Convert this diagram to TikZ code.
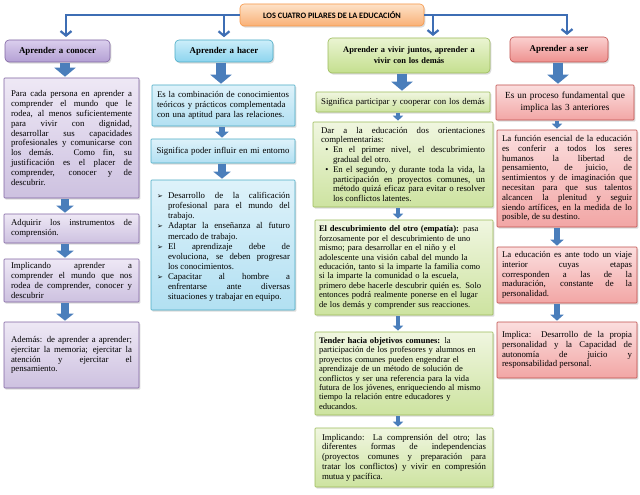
\documentclass[tikz,border=0pt]{standalone}
\usepackage{fontspec}
\setmainfont{Liberation Serif}
\newfontfamily\titlefont{Carlito}
\newfontfamily\symfont{DejaVu Sans}
\usetikzlibrary{arrows.meta,shadows,calc}
\setlength{\parindent}{0pt}
\hyphenpenalty=10000 \exhyphenpenalty=10000 \tolerance=10000
\definecolor{ptop}{RGB}{238,232,245}\definecolor{pbot}{RGB}{205,193,224}\definecolor{pbd}{RGB}{128,100,162}
\definecolor{phtop}{RGB}{218,206,237}\definecolor{phbot}{RGB}{180,160,212}
\definecolor{btop}{RGB}{222,242,250}\definecolor{bbot}{RGB}{178,224,242}\definecolor{bbd}{RGB}{75,172,198}
\definecolor{bhtop}{RGB}{204,238,250}\definecolor{bhbot}{RGB}{140,212,238}
\definecolor{gtop}{RGB}{240,246,224}\definecolor{gbot}{RGB}{205,227,160}\definecolor{gbd}{RGB}{155,187,89}
\definecolor{ghtop}{RGB}{234,244,210}\definecolor{ghbot}{RGB}{196,223,142}
\definecolor{rtop}{RGB}{251,222,222}\definecolor{rbot}{RGB}{242,166,165}\definecolor{rbd}{RGB}{192,80,77}
\definecolor{rhtop}{RGB}{250,208,207}\definecolor{rhbot}{RGB}{238,145,143}
\definecolor{otop}{RGB}{253,226,200}\definecolor{obot}{RGB}{249,176,118}\definecolor{obd}{RGB}{247,150,70}
\definecolor{arrblue}{RGB}{74,126,187}
\definecolor{lineblue}{RGB}{62,110,180}
\newcommand{\tx}{\fontsize{8.8}{9.8}\selectfont}
\newcommand{\hx}{\bfseries\fontsize{8.9}{10}\selectfont}
\newcommand{\itm}[1]{\par\hangindent=12pt\hangafter=0\noindent\llap{{\symfont\fontsize{7}{7}\selectfont ➢}\hspace{5pt}}#1\par}
\newcommand{\bul}[1]{\par\hangindent=12pt\hangafter=0\noindent\llap{\textbullet\hspace{4.5pt}}#1\par}
\begin{document}
\begin{tikzpicture}[x=1pt,y=-1pt,
  wh/.style n args={3}{minimum width=#1pt,minimum height=#2pt,text width=#3pt},
  base/.style={draw,line width=0.6pt,inner sep=1pt,font=\tx,align=justify,
    drop shadow={shadow xshift=1.3pt,shadow yshift=-1.6pt,opacity=0.28}},
  pbox/.style={base,draw=pbd,top color=ptop,bottom color=pbot,rounded corners=0.8pt},
  bbox/.style={base,draw=bbd,top color=btop,bottom color=bbot,rounded corners=0.8pt},
  gbox/.style={base,draw=gbd,top color=gtop,bottom color=gbot,rounded corners=0.8pt},
  rbox/.style={base,draw=rbd,top color=rtop,bottom color=rbot,rounded corners=0.8pt},
  phead/.style={base,draw=pbd,top color=phtop,bottom color=phbot,rounded corners=4pt,font=\hx,align=center},
  bhead/.style={base,draw=bbd,top color=bhtop,bottom color=bhbot,rounded corners=4pt,font=\hx,align=center},
  ghead/.style={base,draw=gbd,top color=ghtop,bottom color=ghbot,rounded corners=4pt,font=\bfseries\fontsize{8.4}{11}\selectfont,align=center},
  rhead/.style={base,draw=rbd,top color=rhtop,bottom color=rhbot,rounded corners=4pt,font=\hx,align=center},
  titlebox/.style={base,draw=obd,top color=otop,bottom color=obot,rounded corners=4pt,
    font=\titlefont\bfseries\fontsize{8.3}{9}\selectfont},
  conn/.style={draw=lineblue,line width=2.2pt,-{Straight Barb[length=4.5pt,width=11pt]}},
  bigarr/.style={draw=arrblue,line width=10pt,-{Triangle[width=21pt,length=9pt]},shorten <=0.5pt,shorten >=1pt},
  midarr/.style={draw=arrblue,line width=8pt,-{Triangle[width=17pt,length=7pt]},shorten <=1pt,shorten >=1pt},
  smarr/.style={draw=arrblue,line width=6pt,-{Triangle[width=13pt,length=6pt]},shorten <=1pt,shorten >=1pt},
  tinyarr/.style={draw=arrblue,line width=4.5pt,-{Triangle[width=10pt,length=5pt]},shorten <=1pt,shorten >=1pt}
]
\useasboundingbox (0,0) rectangle (640,495);
\fill[white] (0,0) rectangle (640,495);

% title
\node[titlebox,minimum width=184pt,minimum height=22pt] (t) at (332,15) {LOS CUATRO PILARES DE LA EDUCACIÓN};

% headers
\node[phead,wh={105}{22}{100}] (h1) at (57.5,51) {Aprender a conocer};
\node[bhead,wh={98}{22}{94}] (h2) at (224,51) {Aprender a hacer};
\node[ghead,wh={162}{35}{156}] (h3) at (409,55.5) {Aprender a vivir juntos, aprender a\\ vivir con los demás};
\node[rhead,wh={98}{25}{94}] (h4) at (559,49.5) {Aprender a ser};

% column 1
\node[pbox,wh={135}{120}{121}] (b11) at (71.5,138) {Para cada persona en aprender a\linebreak comprender el mundo que le\linebreak rodea, al menos suficientemente\linebreak para vivir con dignidad,\linebreak desarrollar sus capacidades\linebreak profesionales y comunicarse con\linebreak los demás. Como fin, su\linebreak justificación es el placer de\linebreak comprender, conocer y de\linebreak descubrir.};
\node[pbox,wh={135}{29}{121}] (b12) at (71.5,228.5) {Adquirir los instrumentos de\linebreak comprensión.};
\node[pbox,wh={135}{43}{121}] (b13) at (71.5,280.5) {Implicando aprender a\linebreak comprender el mundo que nos\linebreak rodea de comprender, conocer y\linebreak descubrir};
\node[pbox,wh={135}{66}{121}] (b14) at (71.5,355) {Además: de aprender a aprender;\linebreak ejercitar la memoria; ejercitar la\linebreak atención y ejercitar el\linebreak pensamiento.};

% column 2
\node[bbox,wh={143}{41}{133},align=left] (b21) at (223.5,105.5) {Es la combinación de conocimientos\\ teóricos y prácticos complementada\\ con una aptitud para las relaciones.};
\node[bbox,wh={144}{24}{134},align=center] (b22) at (223,151) {Significa poder influir en mi entorno};
\node[bbox,wh={144}{130}{134},font=\fontsize{8.8}{10.1}\selectfont] (b23) at (223,245) {%
\itm{Desarrollo de la calificación\linebreak profesional para el mundo del\linebreak trabajo.}%
\itm{Adaptar la enseñanza al futuro\linebreak mercado de trabajo.}%
\itm{El aprendizaje debe de\linebreak evoluciona, se deben progresar\linebreak los conocimientos.}%
\itm{Capacitar al hombre a\linebreak enfrentarse ante diversas\linebreak situaciones y trabajar en equipo.}};

% column 3
\node[gbox,wh={174}{20}{164},align=center] (b31) at (403,102) {Significa participar y cooperar con los demás};
\node[gbox,wh={180}{85}{164}] (b32) at (403,164.5) {Dar a la educación dos orientaciones\linebreak complementarias:\par
\bul{En el primer nivel, el descubrimiento\linebreak gradual del otro.}%
\bul{En el segundo, y durante toda la vida, la\linebreak participación en proyectos comunes, un\linebreak método quizá eficaz para evitar o resolver\linebreak los conflictos latentes.}};
\node[gbox,wh={178}{95}{170},align=left,font=\fontsize{8.55}{9.4}\selectfont] (b33) at (404,267.5) {\textbf{El descubrimiento del otro (empatía):} pasa\\ forzosamente por el descubrimiento de uno\\ mismo; para desarrollar en el niño y el\\ adolescente una visión cabal del mundo la\\ educación, tanto si la imparte la familia como\\ si la imparte la comunidad o la escuela,\\ primero debe hacerle descubrir quién es. Solo\\ entonces podrá realmente ponerse en el lugar\\ de los demás y comprender sus reacciones.};
\node[gbox,wh={178}{83}{170},align=left,font=\fontsize{8.55}{9.4}\selectfont] (b34) at (404,373.5) {\textbf{Tender hacia objetivos comunes:} la\\ participación de los profesores y alumnos en\\ proyectos comunes pueden engendrar el\\ aprendizaje de un método de solución de\\ conflictos y ser una referencia para la vida\\ futura de los jóvenes, enriqueciendo al mismo\\ tiempo la relación entre educadores y\\ educandos.};
\node[gbox,wh={178}{59}{164}] (b35) at (404,457.5) {Implicando: La comprensión del otro; las\linebreak diferentes formas de independencias\linebreak (proyectos comunes y preparación para\linebreak tratar los conflictos) y vivir en compresión\linebreak mutua y pacífica.};

% column 4
\node[rbox,wh={138}{35}{130},align=center,font=\fontsize{9.3}{11.8}\selectfont] (b41) at (565,102.5) {Es un proceso fundamental que\\ implica las 3 anteriores};
\node[rbox,wh={140}{97}{130}] (b42) at (567,178.5) {La función esencial de la educación\linebreak es conferir a todos los seres\linebreak humanos la libertad de\linebreak pensamiento, de juicio, de\linebreak sentimientos y de imaginación que\linebreak necesitan para que sus talentos\linebreak alcancen la plenitud y seguir\linebreak siendo artífices, en la medida de lo\linebreak posible, de su destino.};
\node[rbox,wh={140}{56}{130}] (b43) at (567,275) {La educación es ante todo un viaje\linebreak interior cuyas etapas\linebreak corresponden a las de la\linebreak maduración, constante de la\linebreak personalidad.};
\node[rbox,wh={140}{56}{130}] (b44) at (567,350) {Implica: Desarrollo de la propia\linebreak personalidad y la Capacidad de\linebreak autonomía de juicio y\linebreak responsabilidad personal.};

% thin connectors from the title
\coordinate (a1) at (66,37);
\coordinate (j2) at (224,15);
\coordinate (j3) at (433,15);
\coordinate (a3) at (433,36);
\coordinate (a4) at (567,35);
\draw[conn] (t.west) -| (a1);
\draw[conn,shorten >=2.5pt] (j2) -- (h2.north);
\draw[conn] (t.east) -| (a4);
\draw[conn] (j3) -- (a3);

% block arrows column 1
\draw[bigarr] ([xshift=7.5pt]h1.south) -- ([xshift=-6.5pt]b11.north);
\draw[midarr] ([xshift=-6.5pt]b11.south) -- ([xshift=-6.5pt]b12.north);
\draw[midarr] ([xshift=-6.5pt]b12.south) -- ([xshift=-6.5pt]b13.north);
\draw[midarr] ([xshift=-6.5pt]b13.south) -- ([xshift=-6.5pt]b14.north);
% column 2
\draw[bigarr] ([xshift=-3pt]h2.south) -- ([xshift=-2.5pt]b21.north);
\draw[smarr] ([xshift=-1.5pt]b21.south) -- ([xshift=-1pt]b22.north);
\draw[midarr] ([xshift=-1pt]b22.south) -- ([xshift=-1pt]b23.north);
% column 3
\draw[bigarr] ([xshift=-7pt]h3.south) -- ([xshift=-1pt]b31.north);
\draw[tinyarr] ([xshift=-5pt]b31.south) -- ([xshift=-5pt]b32.north);
\draw[tinyarr] ([xshift=-5pt]b32.south) -- ([xshift=-6pt]b33.north);
\draw[tinyarr] ([xshift=-6pt]b33.south) -- ([xshift=-6pt]b34.north);
\draw[tinyarr] ([xshift=-6pt]b34.south) -- ([xshift=-6pt]b35.north);
% column 4
\draw[bigarr] ([xshift=-1pt]h4.south) -- ([xshift=-7pt]b41.north);
\draw[tinyarr] ([xshift=-8pt]b41.south) -- ([xshift=-10pt]b42.north);
\draw[smarr] ([xshift=-10pt]b42.south) -- ([xshift=-10pt]b43.north);
\draw[smarr] ([xshift=-10pt]b43.south) -- ([xshift=-10pt]b44.north);
\end{tikzpicture}
\end{document}
